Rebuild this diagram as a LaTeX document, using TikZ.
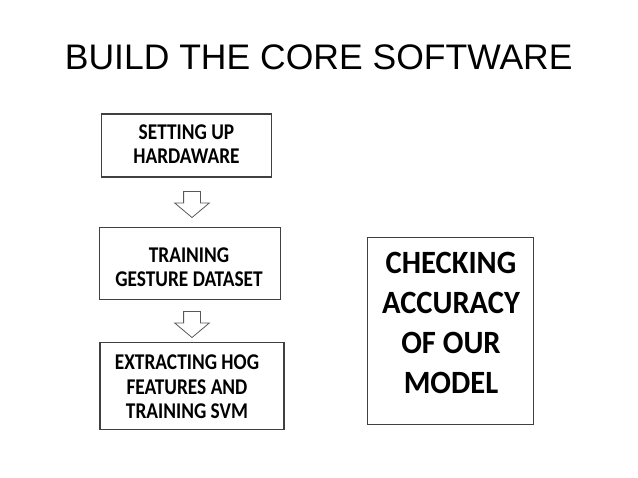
\documentclass[tikz,border=0pt]{standalone}
\usepackage{fontspec}
\setmainfont{Liberation Sans}
\newfontfamily\stepfont[FakeStretch=0.86]{Carlito}
\newfontfamily\bigfont[FakeStretch=0.94]{Carlito}
\usetikzlibrary{shapes.arrows}
\tikzset{
  box/.style={draw=black!75,line width=1.1pt,inner sep=0pt},
  steptxt/.style={font=\stepfont\bfseries\fontsize{22.5}{24.5}\selectfont,align=center,inner sep=0pt},
  bigtxt/.style={font=\bigfont\bfseries\fontsize{32.5}{40}\selectfont,align=center,inner sep=0pt},
  downarrow/.style={draw=black!65,line width=0.8pt,fill=white,single arrow,
    shape border rotate=270,minimum height=26pt,text width=16pt,text height=16pt,text depth=0pt,
    single arrow head extend=9pt,single arrow tip angle=100,inner sep=0pt}
}
\begin{document}
\begin{tikzpicture}[x=1pt,y=-1pt]
\useasboundingbox (0,0) rectangle (638,478);
\node[font=\fontsize{35.5}{40}\selectfont,anchor=base,inner sep=0pt] (title) at (318.7,70) {BUILD THE CORE SOFTWARE};
% boxes
\node[box,minimum width=170pt,minimum height=63pt] (hw) at (186.7,145.5) {};
\node[box,minimum width=181.7pt,minimum height=71.6pt] (ds) at (189.9,263.5) {};
\node[box,minimum width=184pt,minimum height=87.3pt] (svm) at (192,386.3) {};
\node[box,minimum width=166pt,minimum height=187pt] (acc) at (450.3,330.8) {};
% texts
\node[steptxt] (hwtxt) at (186.5,144.2) {SETTING UP\\HARDAWARE};
\node[steptxt] (dstxt) at (189,267.2) {TRAINING\\GESTURE DATASET};
\node[steptxt] (svmtxt) at (187,387) {EXTRACTING HOG\\FEATURES AND\\TRAINING SVM};
\node[bigtxt] (acctxt) at (451,322.8) {CHECKING\\ACCURACY\\OF OUR\\MODEL};
% arrows
\node[downarrow] (a1) at (192,201) {};
\node[downarrow] (a2) at (192,321) {};
\end{tikzpicture}
\end{document}
